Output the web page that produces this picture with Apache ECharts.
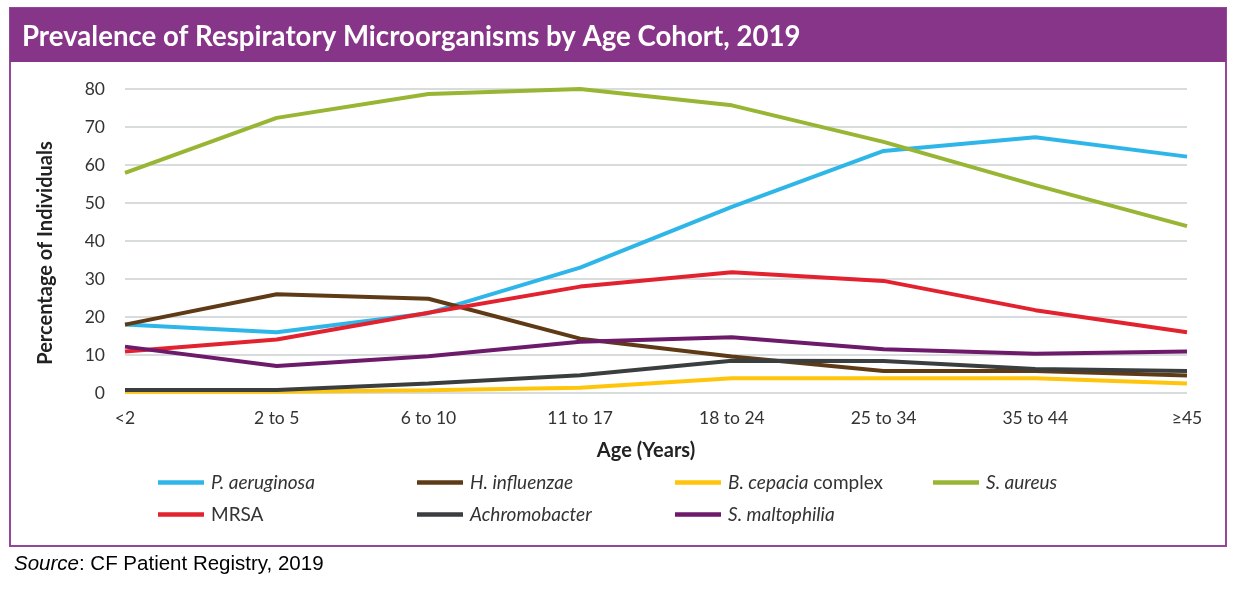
<!DOCTYPE html>
<html><head><meta charset="utf-8">
<script src="https://cdn.jsdelivr.net/npm/echarts@6/dist/echarts.min.js"></script>
<style>html,body{margin:0;padding:0;background:#fff}#c{width:1235px;height:589px}</style>
</head><body><div id="c"></div>
<script>
const categories = ['<2','2 to 5','6 to 10','11 to 17','18 to 24','25 to 34','35 to 44','≥45'];
const yTicks = [0,10,20,30,40,50,60,70,80];
const pAeruginosa = [18, 16, 21, 33, 49, 63.7, 67.3, 62.2];
const hInfluenzae = [18, 26, 24.8, 14.3, 9.6, 5.8, 5.8, 4.6];
const bCepacia = [0.3, 0.3, 0.7, 1.4, 3.9, 3.9, 3.9, 2.5];
const sAureus = [57.9, 72.4, 78.7, 80, 75.7, 66.1, 54.7, 43.9];
const mrsa = [10.9, 14.1, 21.1, 28, 31.8, 29.5, 21.8, 16];
const achromobacter = [0.8, 0.8, 2.5, 4.7, 8.5, 8.4, 6.3, 5.8];
const sMaltophilia = [12.2, 7.1, 9.7, 13.5, 14.7, 11.5, 10.3, 10.9];

const seriesDefs = [
  {name:'P. aeruginosa', data:pAeruginosa, color:'#2FB6E9', label:'{i|P. aeruginosa}'},
  {name:'H. influenzae', data:hInfluenzae, color:'#5E3B16', label:'{i|H. influenzae}'},
  {name:'B. cepacia complex', data:bCepacia, color:'#FFC50D', label:'{i|B. cepacia} complex'},
  {name:'S. aureus', data:sAureus, color:'#98B533', label:'{i|S. aureus}'},
  {name:'MRSA', data:mrsa, color:'#E2222E', label:'MRSA'},
  {name:'Achromobacter', data:achromobacter, color:'#3A3E3E', label:'{i|Achromobacter}'},
  {name:'S. maltophilia', data:sMaltophilia, color:'#6D1A6B', label:'{i|S. maltophilia}'}
];
const legendPos = [[158,482],[417,482],[675,482],[933,482],[158,514],[417,514],[675,514]];

const FONT = 'Lato, "Open Sans", sans-serif';
const chart = echarts.init(document.getElementById('c'), null, {renderer:'canvas'});
const labelMap = {};
seriesDefs.forEach(s => labelMap[s.name] = s.label);

const option = {
  animation:false,
  backgroundColor:'#fff',
  grid:{left:125, right:48, top:89, bottom:196, containLabel:false},
  xAxis:{
    type:'category', data:categories, boundaryGap:false,
    axisLine:{show:false}, axisTick:{show:false},
    axisLabel:{color:'#333', fontSize:17.5, fontFamily:FONT, margin:16, interval:0}
  },
  yAxis:{
    type:'value', min:0, max:80, interval:10,
    axisLine:{show:false}, axisTick:{show:false},
    axisLabel:{color:'#333', fontSize:17.5, fontFamily:FONT, margin:20,
      formatter: v => yTicks.includes(v) ? String(v) : ''},
    splitLine:{lineStyle:{color:'#D8DCDC', width:2}}
  },
  legend: seriesDefs.map((s,i) => ({
    data:[s.name], left:legendPos[i][0], top:legendPos[i][1]-9, padding:0,
    icon:'rect', itemWidth:46, itemHeight:4.5, itemGap:0,
    formatter: n => labelMap[n],
    textStyle:{color:'#333', fontSize:19, fontFamily:FONT, padding:[0,0,0,2],
      rich:{i:{fontStyle:'italic', fontSize:19, fontFamily:FONT, color:'#333'}}}
  })),
  series: seriesDefs.map(s => ({
    name:s.name, type:'line', data:s.data, symbol:'none', smooth:false,
    lineStyle:{color:s.color, width:4}, itemStyle:{color:s.color}
  })),
  graphic:[
    {type:'rect', z:-1, shape:{x:10, y:8, width:1216, height:538},
      style:{fill:'#fff', stroke:'#93479B', lineWidth:2}},
    {type:'rect', shape:{x:10, y:8, width:1216, height:54},
      style:{fill:'#873588'}},
    {type:'text', x:22, y:37,
      style:{text:'Prevalence of Respiratory Microorganisms by Age Cohort, 2019',
        fill:'#fff', font:'bold 27.6px '+FONT, textVerticalAlign:'middle'}},
    {type:'text', x:36, y:253, rotation:Math.PI/2,
      style:{text:'Percentage of Individuals', fill:'#222', font:'bold 20px '+FONT,
        textAlign:'center', textVerticalAlign:'top'}},
    {type:'text', x:646, y:451,
      style:{text:'Age (Years)', fill:'#222', font:'bold 20px '+FONT,
        textAlign:'center', textVerticalAlign:'middle'}},
    {type:'text', x:14, y:564,
      style:{rich:{i:{fontStyle:'italic', fontSize:20.5, fontFamily:'"Liberation Sans", Arial, sans-serif', fill:'#000'},
                   n:{fontSize:20.5, fontFamily:'"Liberation Sans", Arial, sans-serif', fill:'#000'}},
        text:'{i|Source}{n|: CF Patient Registry, 2019}', textVerticalAlign:'middle'}}
  ]
};
chart.setOption(option);
</script></body></html>
